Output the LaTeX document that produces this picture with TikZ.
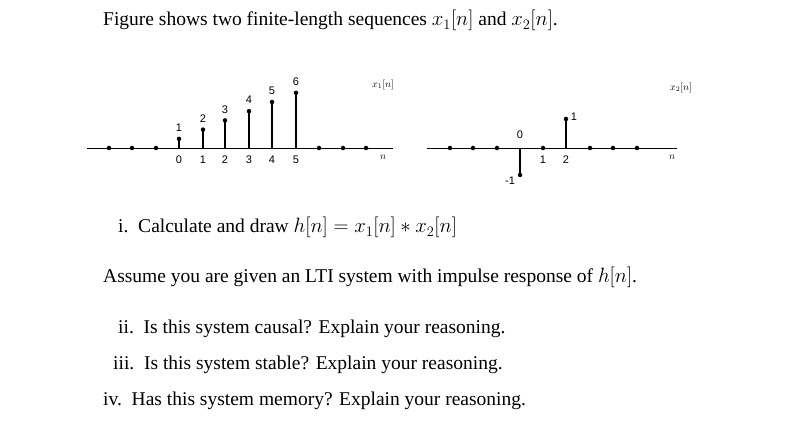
\documentclass[tikz,border=0pt]{standalone}
\usepackage{fontspec}
\setmainfont{Liberation Serif}
\newfontfamily\lsans{Liberation Sans}
\begin{document}
\begin{tikzpicture}[x=1pt,y=-1pt,
  txt/.style={anchor=base west,inner sep=0pt,font=\fontsize{19.5}{21}\selectfont},
  lab/.style={inner sep=0pt,font=\lsans\fontsize{11}{12}\selectfont},
  ax/.style={line width=0.9pt},
  stem/.style={line width=1.2pt},
  dot/.style={circle,fill=black,inner sep=0pt,minimum size=4.5pt}]
\useasboundingbox (0,0) rectangle (793,438);
\node[txt] (t1) at (103,26) {Figure shows two finite-length sequences $\textstyle x_1[n]$ and $x_2[n]$.};
\node[txt] (t2) at (118,233) {i.\ \ Calculate and draw $h[n]=x_1[n]*x_2[n]$};
\node[txt] (t3) at (103,283) {Assume you are given an LTI system with impulse response of $h[n]$.};
\node[txt] (t4) at (118,334) {ii.\ \ Is this system causal? Explain your reasoning.};
\node[txt] (t5) at (113,370) {iii.\ \ Is this system stable? Explain your reasoning.};
\node[txt] (t6) at (103,406) {iv.\ \ Has this system memory? Explain your reasoning.};
% x1
\draw[ax] (87,148) -- (393,148);
\foreach \x in {109,132,156,319,343,366} \node[dot] at (\x,148) {};
\foreach \k/\v/\x in {0/1/179,1/2/203,2/3/225,3/4/249,4/5/272,5/6/296}{
  \pgfmathsetmacro{\yy}{148-9.2*\v}
  \draw[stem] (\x,148) -- (\x,\yy);
  \node[dot] at (\x,\yy) {};
  \node[lab] at (\x,\yy-11) {\v};
  \node[lab] at (\x,160) {\k};
}
\node[inner sep=0pt,font=\fontsize{10}{11}\selectfont] (l1) at (383,85) {$x_1[n]$};
\node[inner sep=0pt,font=\fontsize{10}{11}\selectfont] (n1) at (383,157) {$n$};
% x2
\draw[ax] (427,148) -- (677,148);
\foreach \x in {450,473,497,543,590,613,637} \node[dot] at (\x,148) {};
\draw[stem] (520,148) -- (520,175); \node[dot] at (520,175) {};
\draw[stem] (566,148) -- (566,119); \node[dot] at (566,119) {};
\node[lab] at (520,135) {0};
\node[lab] at (510,181) {-1};
\node[lab] at (574,117) {1};
\node[lab] at (543,160) {1};
\node[lab] at (566,160) {2};
\node[inner sep=0pt,font=\fontsize{10}{11}\selectfont] (l2) at (681,88) {$x_2[n]$};
\node[inner sep=0pt,font=\fontsize{10}{11}\selectfont] (n2) at (672,157) {$n$};
\end{tikzpicture}
\end{document}
